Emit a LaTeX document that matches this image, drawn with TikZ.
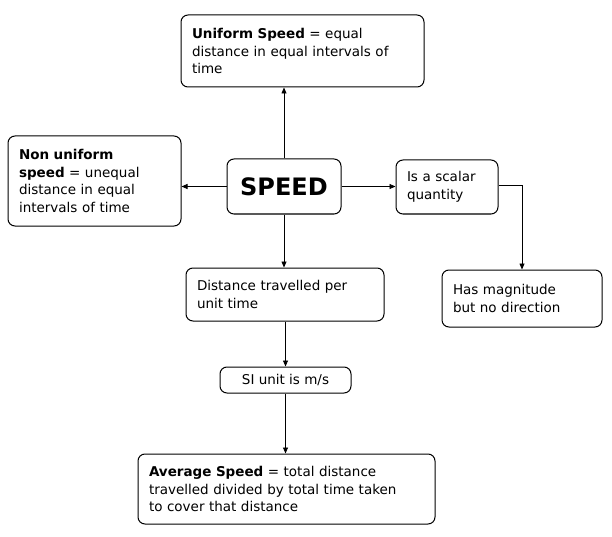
\documentclass[tikz,border=0pt]{standalone}
\usepackage{fontspec}
\setmainfont{DejaVu Sans}
\usetikzlibrary{arrows.meta}
\begin{document}
\begin{tikzpicture}[x=1pt,y=-1pt,
  bx/.style={draw,line width=1pt,rounded corners=7pt,align=left,inner sep=0pt,font=\fontsize{13.5}{17.5}\selectfont},
  ar/.style={-{Triangle[length=6pt,width=5pt]},line width=0.8pt}]
\useasboundingbox (0,0) rectangle (612,537);
\newcommand{\bx}[6]{\node[bx,minimum width=#3-#2,minimum height=#5-#4,text width=#3-#2-22] (#1) at ({(#2+#3)/2},{(#4+#5)/2}) {#6};}
\bx{uni}{181}{424}{15}{87}{\textbf{Uniform Speed} = equal\\distance in equal intervals of\\time}
\bx{non}{8}{181}{136}{226}{\textbf{Non uniform}\\\textbf{speed} = unequal\\distance in equal\\intervals of time}
\node[bx,minimum width=114,minimum height=55,align=center] (sp) at (284,186.5) {\fontsize{24}{28}\selectfont\textbf{SPEED}};
\bx{sca}{396}{498}{160}{214}{Is a scalar\\quantity}
\bx{dis}{186}{384}{268}{321}{Distance travelled per\\unit time}
\bx{mag}{442}{602}{270}{327}{Has magnitude\\but no direction}
\node[bx,minimum width=131,minimum height=26,align=center] (si) at (285.5,380) {SI unit is m/s};
\bx{avg}{138}{435}{454}{524}{\textbf{Average Speed} = total distance\\travelled divided by total time taken\\to cover that distance}
\draw[ar] (sp.north) -- (sp.north |- uni.south);
\draw[ar] (sp.west) -- (non.east |- sp.west);
\draw[ar] (sp.east) -- (sca.west |- sp.east);
\draw[ar] (sp.south) -- (sp.south |- dis.north);
\coordinate (c1) at (522,185);
\draw[ar] (sca.east |- c1) -- (c1) -- (c1 |- mag.north);
\draw[ar] (si.north |- dis.south) -- (si.north);
\draw[ar] (si.south) -- (si.south |- avg.north);
\end{tikzpicture}
\end{document}
